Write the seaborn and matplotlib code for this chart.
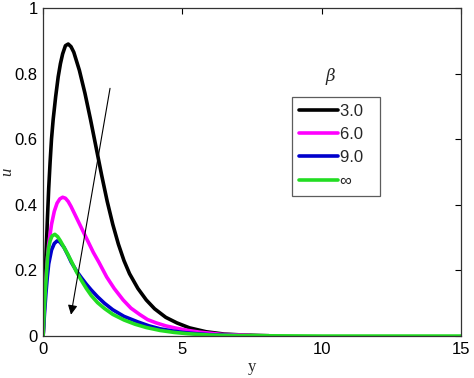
import numpy as np
import pandas as pd
import seaborn as sns
from matplotlib import pyplot as plt

# values
x_30 = [0, 0.05, 0.1, 0.15, 0.2, 0.25, 0.3, 0.36, 0.45, 0.54, 0.62, 0.7, 0.8, 0.9, 1.0, 1.1, 1.3, 1.5, 1.7, 1.9, 2.1, 2.3, 2.5, 2.7, 2.9, 3.1, 3.4, 3.7, 4.0, 4.4, 4.8, 5.25, 5.85, 6.5, 7.2, 8.1]
u_30 = [0, 0.12, 0.24, 0.35, 0.45, 0.53, 0.6, 0.66, 0.73, 0.79, 0.83, 0.86, 0.885, 0.89, 0.882, 0.865, 0.81, 0.74, 0.66, 0.575, 0.49, 0.41, 0.34, 0.28, 0.23, 0.19, 0.145, 0.11, 0.083, 0.057, 0.04, 0.025, 0.013, 0.006, 0.003, 0.001]
x_60 = [0, 0.05, 0.1, 0.15, 0.2, 0.3, 0.4, 0.5, 0.6, 0.7, 0.8, 0.9, 1.0, 1.2, 1.4, 1.6, 1.8, 2.0, 2.28, 2.55, 2.87, 3.15, 3.46, 3.75, 4.06, 4.4, 4.77, 5.2, 5.6, 6.4, 7.4]
u_60 = [0, 0.09, 0.17, 0.23, 0.28, 0.34, 0.38, 0.405, 0.418, 0.423, 0.42, 0.41, 0.395, 0.36, 0.325, 0.29, 0.255, 0.225, 0.18, 0.145, 0.11, 0.085, 0.066, 0.05, 0.04, 0.031, 0.024, 0.017, 0.012, 0.005, 0.002]
x_90 = [0, 0.05, 0.1, 0.15, 0.2, 0.3, 0.4, 0.5, 0.6, 0.75, 0.9, 1.01, 1.2, 1.37, 1.55, 1.73, 1.95, 2.2, 2.5, 2.9, 3.4, 3.8, 4.2, 4.6, 5.0, 5.5, 6.0, 7.0]
u_90 = [0, 0.07, 0.13, 0.18, 0.22, 0.262, 0.282, 0.29, 0.287, 0.27, 0.245, 0.225, 0.198, 0.178, 0.158, 0.14, 0.12, 0.1, 0.08, 0.06, 0.043, 0.031, 0.022, 0.016, 0.011, 0.007, 0.004, 0.001]
x_inf = [0, 0.04, 0.08, 0.12, 0.16, 0.2, 0.25, 0.32, 0.42, 0.52, 0.62, 0.75, 0.88, 1.01, 1.2, 1.37, 1.55, 1.73, 1.95, 2.2, 2.5, 2.9, 3.3, 3.7, 4.2, 4.7, 5.2, 6.0, 7.0, 8.0, 10.0, 15.0]
u_inf = [0, 0.08, 0.14, 0.19, 0.24, 0.27, 0.29, 0.305, 0.31, 0.303, 0.29, 0.27, 0.25, 0.228, 0.195, 0.17, 0.145, 0.123, 0.102, 0.084, 0.066, 0.049, 0.036, 0.026, 0.017, 0.011, 0.007, 0.003, 0.0015, 0.0008, 0.0, 0.0]

betas = ['3.0', '6.0', '9.0', '\u221e']
colors = ['black', '#ff00ff', '#0000cc', '#22dd22']

df = pd.concat([
    pd.DataFrame({'y': x_30, 'u': u_30, 'beta': betas[0]}),
    pd.DataFrame({'y': x_60, 'u': u_60, 'beta': betas[1]}),
    pd.DataFrame({'y': x_90, 'u': u_90, 'beta': betas[2]}),
    pd.DataFrame({'y': x_inf, 'u': u_inf, 'beta': betas[3]}),
])

sns.set_style('white')
plt.rcParams['font.family'] = ['Liberation Sans', 'DejaVu Sans']

fig = plt.figure(figsize=(4.74, 3.78), dpi=100)
ax = fig.add_axes([0.091, 0.111, 0.882, 0.868])

sns.lineplot(data=df, x='y', y='u', hue='beta', hue_order=betas,
             palette=colors, linewidth=2.6, sort=False, estimator=None, ax=ax)

ax.set_xlim(0, 15)
ax.set_ylim(0, 1)
ax.set_xticks([0, 5, 10, 15])
ax.set_yticks([0, 0.2, 0.4, 0.6, 0.8, 1])
ax.set_yticklabels(['0', '0.2', '0.4', '0.6', '0.8', '1'])
ax.tick_params(direction='in', length=4, width=0.8, top=True, right=True,
               labelsize=12, colors='black', pad=4)
for s in ax.spines.values():
    s.set_color('#333333')
    s.set_linewidth(0.9)

ax.set_xlabel('y', family='Liberation Serif', fontsize=12, labelpad=2)
ax.set_ylabel('u', family='Liberation Serif', style='italic', fontsize=12)
ax.yaxis.set_label_coords(-0.066, 0.5)

ax.annotate('', xy=(1.0, 0.065), xytext=(2.4, 0.755),
            arrowprops=dict(arrowstyle='-|>', color='black', lw=0.8,
                            mutation_scale=14, shrinkA=0, shrinkB=0))

handles, labels = ax.get_legend_handles_labels()
leg = ax.legend(handles, [l + '  ' for l in labels],
                loc='upper left', bbox_to_anchor=(0.596, 0.73),
                fontsize=12, frameon=True, fancybox=False, edgecolor='#333333',
                handlelength=2.3, handletextpad=0.15, borderpad=0.42,
                labelspacing=0.5, borderaxespad=0)
leg.get_frame().set_linewidth(0.9)
ax.text(0.686, 0.79, '\u03b2', transform=ax.transAxes, ha='center', va='center',
        family='DejaVu Serif', style='italic', fontsize=12)

fig.savefig('out.png', dpi=100)
